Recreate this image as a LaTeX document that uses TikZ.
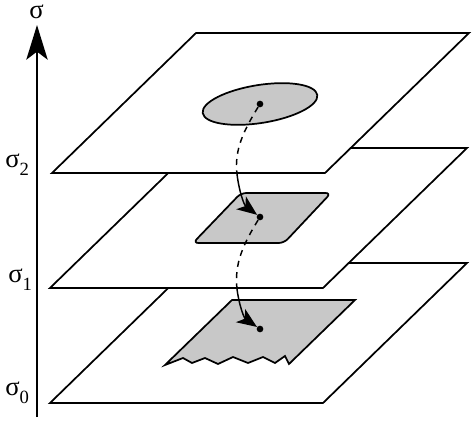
\documentclass[tikz,border=0pt]{standalone}
\usepackage{fontspec}
\setmainfont{Liberation Serif}
\usetikzlibrary{arrows.meta}
\definecolor{shapegray}{RGB}{200,200,200}
\tikzset{
  plane/.style={draw=black, fill=white, line width=1.3pt, line join=miter},
  region/.style={draw=black, fill=shapegray, line width=1.3pt},
  dot/.style={circle, fill=black, inner sep=0pt, minimum size=5pt},
  link/.style={line width=1.1pt},
  hidden/.style={link, dash pattern=on 4.5pt off 4pt},
  tip/.style={-{Stealth[length=15pt, width=12pt, inset=4pt]}},
  lab/.style={anchor=base west, inner sep=0pt, font=\fontsize{20}{20}\selectfont},
}
\newcommand{\sublab}[1]{\raisebox{-6pt}{\fontsize{14}{14}\selectfont #1}}
\begin{document}
\begin{tikzpicture}[x=0.75pt, y=-0.75pt]
\useasboundingbox (0,0) rectangle (474,423);
% axis
\coordinate (axb) at (37,417);
\coordinate (axt) at (37,25);
\draw[line width=1.3pt, -{Stealth[length=26pt, width=16pt, inset=6pt]}] (axb) -- (axt);
\node[lab] (ls) at (29,19) {σ};
\node[lab] (l2) at (5,168) {σ\sublab{2}};
\node[lab] (l1) at (8,283) {σ\sublab{1}};
\node[lab] (l0) at (5,395) {σ\sublab{0}};
% bottom plane
\draw[plane] (50,403) -- (194,263) -- (467,263) -- (323,403) -- cycle;
\draw[region, line join=miter] (232,300) -- (355,300) -- (289,364) -- (285,356) -- (275,363) -- (263,357)
  -- (248,363) -- (233,357) -- (218,364) -- (205,358) -- (192,363) -- (183,358) -- (165,365) -- cycle;
\node[dot] (d3) at (260,329) {};
% middle plane
\draw[plane] (50,288) -- (194,148) -- (467,148) -- (323,288) -- cycle;
\draw[region, rounded corners=4pt] (241,193) -- (331,193) -- (284,243) -- (193,243) -- cycle;
\node[dot] (d2) at (260,217) {};
\coordinate (m2) at (237,289);
\draw[hidden] (d2) .. controls (244,243) and (234,263) .. (m2);
\draw[link, tip] (m2) .. controls (239,305) and (244,318) .. (d3);
% top plane
\draw[plane] (52,173) -- (196,33) -- (469,33) -- (325,173) -- cycle;
\draw[region, rotate around={9:(260,104)}] (260,104) ellipse [x radius=58, y radius=19];
\node[dot] (d1) at (260,104) {};
\coordinate (m1) at (237,174);
\draw[hidden] (d1) .. controls (244,130) and (234,150) .. (m1);
\draw[link, tip] (m1) .. controls (239,191) and (244,205) .. (d2);
\end{tikzpicture}
\end{document}
